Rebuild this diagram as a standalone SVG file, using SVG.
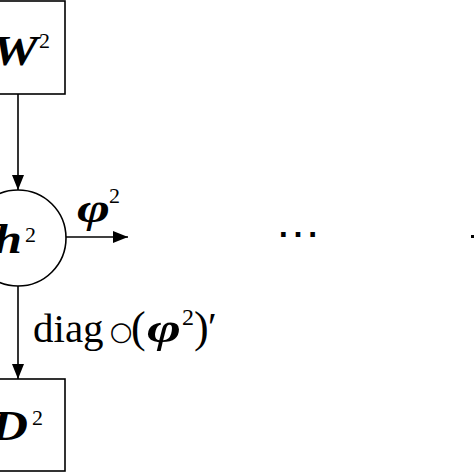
<svg xmlns="http://www.w3.org/2000/svg" width="474" height="474" viewBox="0 0 474 474">
<defs>
<marker id="ah" markerWidth="16" markerHeight="12" refX="15" refY="6" orient="auto" markerUnits="userSpaceOnUse">
<path d="M0,0 L15,6 L0,12 Z" fill="#000"/>
</marker>
<style>
.sh{fill:#fff;stroke:#000;stroke-width:1.6}
.ln{fill:none;stroke:#000;stroke-width:1.6}
.m{font-family:"Liberation Serif","DejaVu Serif",serif;font-style:italic;font-weight:bold;fill:#000}
.r{font-family:"Liberation Serif","DejaVu Serif",serif;fill:#000}
.o{font-family:"DejaVu Sans",sans-serif;fill:#000}
</style>
</defs>
<rect width="474" height="474" fill="#fff"/>
<g id="connectors">
<line class="ln" x1="18" y1="94" x2="18" y2="190" marker-end="url(#ah)"/>
<line class="ln" x1="66" y1="237" x2="128" y2="237" marker-end="url(#ah)"/>
<line class="ln" x1="18" y1="286" x2="18" y2="379" marker-end="url(#ah)"/>
<g id="label-phi">
<text class="m" x="77" y="222" font-size="40" textLength="33" lengthAdjust="spacingAndGlyphs">φ</text>
<text class="r" x="109" y="203" font-size="22">2</text>
</g>
<g id="label-diag">
<text class="r" x="33" y="342" font-size="41">diag</text>
<text class="o" x="121" y="340" font-size="26" text-anchor="middle">○</text>
<text class="r" x="131" y="342" font-size="44">(</text>
<text class="m" x="147" y="342" font-size="42" textLength="34" lengthAdjust="spacingAndGlyphs">φ</text>
<text class="r" x="182" y="325" font-size="24">2</text>
<text class="r" x="194" y="342" font-size="44">)</text>
<text class="r" x="208" y="340" font-size="40">′</text>
</g>
</g>
<g id="W2">
<rect class="sh" x="-40" y="1" width="105" height="93"/>
<text class="m" x="-8" y="65" font-size="42" textLength="46" lengthAdjust="spacingAndGlyphs">W</text>
<text class="r" x="39" y="48" font-size="22">2</text>
</g>
<g id="h2">
<circle class="sh" cx="18" cy="238" r="48"/>
<text class="m" x="-6" y="253" font-size="42" textLength="28" lengthAdjust="spacingAndGlyphs">h</text>
<text class="r" x="25" y="242" font-size="22">2</text>
</g>
<g id="D2">
<rect class="sh" x="-40" y="379" width="105" height="92"/>
<text class="m" x="-9" y="440" font-size="42" textLength="37" lengthAdjust="spacingAndGlyphs">D</text>
<text class="r" x="32" y="425" font-size="22">2</text>
</g>
<g id="dots">
<text class="r" x="276" y="248" font-size="44" textLength="44" lengthAdjust="spacingAndGlyphs">⋯</text>
<rect x="471" y="235" width="3" height="3" fill="#000"/>
</g>
</svg>
